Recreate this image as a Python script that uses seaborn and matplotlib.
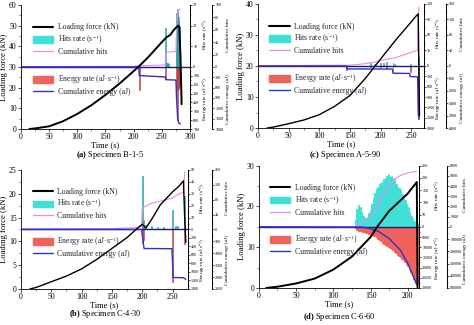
import numpy as np
import matplotlib
matplotlib.use("Agg")
import matplotlib.pyplot as plt
import seaborn as sns
from matplotlib.lines import Line2D
from matplotlib.patches import Patch
from matplotlib.ticker import FixedLocator

sns.set_theme(style="ticks")
plt.rcParams["font.family"] = ["Liberation Serif", "DejaVu Serif"]
plt.rcParams["mathtext.fontset"] = "custom"
plt.rcParams["mathtext.rm"] = "Liberation Serif"
plt.rcParams["mathtext.it"] = "Liberation Serif:italic"
plt.rcParams["mathtext.bf"] = "Liberation Serif:bold"

# ---------------- (a) Specimen B-1-5 ----------------
a_force_t = [15, 25, 50, 75, 100, 125, 150, 175, 200, 210, 225, 250, 258, 265, 270, 275, 279, 281, 283, 285]
a_force_v = [0, 0.3, 1.3, 3.8, 7.3, 11.5, 16.5, 22, 28, 30.5, 34.5, 42, 44.3, 45.5, 47.5, 49, 50, 49, 35, 12]
a_hits_t = [205, 210, 257, 258, 259, 260, 261, 262, 275, 276, 277, 278, 279, 280, 281, 282]
a_hits_v = [0.3, 0.5, 19, 2, 2, 2, 2, 1.5, 20, 26, 28, 25, 24, 22, 20, 15]
a_chits_t = [0, 200, 210, 250, 256, 257, 262, 275, 276, 278, 280, 283]
a_chits_v = [0.5, 1, 2, 3, 3.5, 23, 24, 25, 60, 85, 92, 93]
a_erate_t = [210, 257, 276, 277, 278, 279, 280, 281]
a_erate_v = [255, 140, 250, 600, 270, 250, 230, 200]
a_cen_t = [0, 209, 210, 256, 257, 275, 276, 278, 280, 283]
a_cen_v = [0, 0, 250, 290, 370, 380, 900, 1500, 1630, 1650]

# ---------------- (c) Specimen A-5-90 ----------------
c_force_t = [15, 25, 50, 75, 100, 125, 150, 175, 200, 225, 250, 258, 261, 262, 263]
c_force_v = [0, 0.3, 1.4, 2.6, 4.3, 7.0, 10.5, 16, 22.3, 28.5, 34.3, 36.2, 36.8, 20, 4]
c_hits_t = [145, 183, 190, 200, 205, 210, 220, 222, 248, 261]
c_hits_v = [2, 5, 4, 6, 5, 8, 7, 3, 3, 18]
c_chits_t = [0, 150, 170, 190, 200, 225, 240, 255, 260, 261, 262]
c_chits_v = [0.5, 2, 5, 10, 14, 22, 30, 38, 40, 120, 152]
c_erate_t = [145, 183, 200, 210, 220, 248, 261]
c_erate_v = [130, 30, 40, 50, 200, 180, 1530]
c_cen_t = [0, 144, 145, 219, 220, 247, 248, 260, 261, 262]
c_cen_v = [0, 0, 190, 200, 470, 480, 680, 700, 3000, 3400]

# ---------------- (b) Specimen C-4-30 ----------------
b_force_t = [15, 25, 50, 75, 100, 125, 150, 175, 190, 200, 203, 206, 215, 230, 250, 260, 268, 270, 272]
b_force_v = [0, 0.3, 1.5, 2.7, 4.2, 6.2, 8.5, 10.8, 12.5, 13.6, 13.2, 12.8, 14.5, 17.7, 20.4, 21.5, 22.7, 15, 9.8]
b_hits_t = [200, 202, 205, 215, 225, 235, 250, 255, 258, 269]
b_hits_v = [45, 8, 4, 3, 2, 2, 16, 3, 3, 28]
b_chits_t = [0, 150, 190, 199, 200, 215, 240, 250, 260, 268, 270]
b_chits_v = [1, 2, 5, 8, 58, 70, 80, 85, 95, 100, 155]
b_erate_t = [200, 202, 250, 269]
b_erate_v = [320, 250, 1230, 340]
b_cen_t = [0, 199, 203, 249, 251, 268, 272]
b_cen_v = [0, 0, 800, 810, 2020, 2030, 2100]

# ---------------- (d) Specimen C-6-60 ----------------
d_force_t = [10, 25, 50, 75, 100, 125, 150, 160, 175, 200, 212, 213]
d_force_v = [0, 0.3, 1.1, 2.3, 4.5, 7.7, 12.5, 15.3, 18.9, 23.2, 26, 0]
d_time = [128, 130, 132, 134, 136, 138, 140, 142, 144, 146, 148, 150, 152, 154,
          156, 158, 160, 162, 164, 166, 168, 170, 172, 174, 176, 178, 180, 182,
          184, 186, 188, 190, 192, 194, 196, 198, 200, 202, 204, 206, 208, 210, 212]
d_hits_v = [5, 30, 75, 90, 80, 60, 45, 38, 35, 40, 55, 70, 95, 120,
            140, 155, 165, 175, 180, 185, 195, 200, 210, 215, 205, 210, 200, 190,
            175, 165, 160, 150, 135, 120, 110, 95, 80, 60, 45, 35, 25, 20, 15]
d_erate_v = [300, 800, 1500, 2000, 2200, 2200, 2300, 2500, 2800, 3200, 3600, 4000, 4200, 4300,
             4500, 5000, 6000, 6500, 7000, 7800, 8500, 9000, 9500, 9800, 10200, 10800, 11500, 12200,
             13000, 13800, 14500, 15000, 15800, 16500, 17200, 18000, 19000, 20500, 22000, 23800, 25500,
             27000, 28000]
d_chits_t = [0, 128, 135, 145, 150, 155, 160, 165, 170, 175, 180, 185, 190, 200, 212]
d_chits_v = [0, 0, 250, 600, 900, 1500, 2200, 2900, 3500, 4000, 4400, 4800, 5050, 5300, 5450]
d_cen_t = [0, 140, 150, 160, 175, 190, 200, 210, 212]
d_cen_v = [0, 2000, 16000, 35000, 96000, 190000, 300000, 445000, 475000]

CYAN = "#3fe0d6"
CYAN_EDGE = "#1f8f8a"
RED = "#f0625c"
RED_EDGE = "#a83a36"
PINK = "#ee88ee"
BLUE = "#3030d0"
MID = "#1c1c70"

panels = [
    dict(rect=[0.044, 0.603, 0.357, 0.382], xmax=300, fmax=60, fstep=10,
         force=(a_force_t, a_force_v), hits=(a_hits_t, a_hits_v), chits=(a_chits_t, a_chits_v),
         erate=(a_erate_t, a_erate_v), cen=(a_cen_t, a_cen_v),
         hl=30, hs=10, el=700, es=100, chl=100, chs=20, cel=1800, ces=300,
         outer_px=22, in_lab=15.5, out_lab=38, bw=1.5, edged=True, flw=1.4,
         cap=("(a)", "Specimen B-1-5"), capxy=(0.232, 0.522)),
    dict(rect=[0.544, 0.606, 0.350, 0.382], xmax=270, fmax=40, fstep=10,
         force=(c_force_t, c_force_v), hits=(c_hits_t, c_hits_v), chits=(c_chits_t, c_chits_v),
         erate=(c_erate_t, c_erate_v), cen=(c_cen_t, c_cen_v),
         hl=120, hs=30, el=1800, es=300, chl=160, chs=40, cel=4000, ces=800,
         outer_px=22, in_lab=15.5, out_lab=38, bw=1.5, edged=True, flw=1.0,
         cap=("(c)", "Specimen A-5-90"), capxy=(0.728, 0.522)),
    dict(rect=[0.044, 0.111, 0.352, 0.366], xmax=275, fmax=25, fstep=5,
         force=(b_force_t, b_force_v), hits=(b_hits_t, b_hits_v), chits=(b_chits_t, b_chits_v),
         erate=(b_erate_t, b_erate_v), cen=(b_cen_t, b_cen_v),
         hl=50, hs=10, el=1400, es=200, chl=160, chs=40, cel=2500, ces=500,
         outer_px=24, in_lab=15.5, out_lab=39, bw=1.5, edged=True, flw=1.0,
         cap=("(b)", "Specimen C-4-30"), capxy=(0.222, 0.035)),
    dict(rect=[0.546, 0.114, 0.338, 0.376], xmax=215, fmax=30, fstep=10,
         force=(d_force_t, d_force_v), hits=(d_time, d_hits_v), chits=(d_chits_t, d_chits_v),
         erate=(d_time, d_erate_v), cen=(d_cen_t, d_cen_v),
         hl=250, hs=50, el=30000, es=5000, chl=6000, chs=1000, cel=500000, ces=100000,
         outer_px=28, in_lab=19, out_lab=46, bw=2.0, edged=False, flw=1.4,
         cap=("(d)", "Specimen C-6-60"), capxy=(0.717, 0.024)),
]

fig = plt.figure(figsize=(4.74, 3.25), dpi=100)
fig.patch.set_facecolor("white")

RFS = 3.0   # right axis tick label size
LFS = 5.6   # left axis tick label size


def style_right(axr, pos, lim, step, show_zero, inverted):
    for s in ("left", "top", "bottom"):
        axr.spines[s].set_visible(False)
    axr.spines["right"].set_visible(True)
    axr.spines["right"].set_position(("axes", pos))
    axr.spines["right"].set_linewidth(0.6)
    axr.spines["right"].set_color("black")
    if inverted:
        axr.set_ylim(lim, -lim)
    else:
        axr.set_ylim(-lim, lim)
    start = 0 if show_zero else step
    axr.yaxis.set_major_locator(FixedLocator(np.arange(start, lim + step * 0.5, step)))
    axr.yaxis.set_minor_locator(FixedLocator(np.arange(step / 2, lim, step)))
    axr.tick_params(axis="y", which="major", labelsize=RFS, length=1.5, width=0.5, pad=0.8, colors="black")
    axr.tick_params(axis="y", which="minor", length=0.9, width=0.4)
    axr.grid(False)
    axr.patch.set_visible(False)


for p in panels:
    ax = fig.add_axes(p["rect"])
    ax.set_xlim(0, p["xmax"])
    ax.set_ylim(0, p["fmax"])
    ax_w_px = p["rect"][2] * 474
    outer = 1.0 + p["outer_px"] / ax_w_px

    # right-hand axes: hits (upward) and energy (downward), both with 0 at mid height
    ax_h = ax.twinx()
    ax_e = ax.twinx()
    ax_ch = ax.twinx()
    ax_ce = ax.twinx()
    style_right(ax_h, 1.0, p["hl"], p["hs"], True, False)
    style_right(ax_e, 1.0, p["el"], p["es"], False, True)
    style_right(ax_ch, outer, p["chl"], p["chs"], True, False)
    style_right(ax_ce, outer, p["cel"], p["ces"], False, True)
    for axr in (ax_h, ax_e, ax_ch, ax_ce):
        axr.set_xlim(0, p["xmax"])

    ht, hv = p["hits"]
    et, ev = p["erate"]
    if p["edged"]:
        hkw = dict(edgecolor=CYAN_EDGE, linewidth=0.4)
        ekw = dict(edgecolor=RED_EDGE, linewidth=0.4)
    else:
        hkw = dict(edgecolor=CYAN, linewidth=0.6)
        ekw = dict(edgecolor=RED, linewidth=0.6)
    ax_h.bar(ht, hv, width=p["bw"], color=CYAN, align="center", zorder=2, **hkw)
    ax_e.bar(et, ev, width=p["bw"], color=RED, align="center", zorder=2, **ekw)

    ct, cv = p["chits"]
    sns.lineplot(x=ct, y=cv, ax=ax_ch, color=PINK, lw=0.8, estimator=None, sort=False)
    ct2, cv2 = p["cen"]
    sns.lineplot(x=ct2, y=cv2, ax=ax_ce, color=BLUE, lw=1.0, estimator=None, sort=False)
    ax_ce.axhline(0, color=MID, lw=1.0, zorder=1)

    for axr in (ax_h, ax_e, ax_ch, ax_ce):
        axr.set_xlabel("")
        axr.set_ylabel("")

    # loading force drawn on top of the bars
    ax.set_zorder(ax_ce.get_zorder() + 1)
    ax.patch.set_visible(False)
    ft, fv = p["force"]
    sns.lineplot(x=ft, y=fv, ax=ax, color="black", lw=p["flw"], estimator=None, sort=False)

    ax.spines["top"].set_visible(False)
    ax.spines["right"].set_visible(False)
    for s in ("left", "bottom"):
        ax.spines[s].set_linewidth(0.6)
        ax.spines[s].set_color("black")
    ax.xaxis.set_major_locator(FixedLocator(np.arange(0, p["xmax"] + 1, 50)))
    ax.xaxis.set_minor_locator(FixedLocator(np.arange(25, p["xmax"], 50)))
    ax.yaxis.set_major_locator(FixedLocator(np.arange(0, p["fmax"] + 0.1, p["fstep"])))
    ax.yaxis.set_minor_locator(FixedLocator(np.arange(p["fstep"] / 2, p["fmax"], p["fstep"])))
    ax.tick_params(axis="both", which="major", labelsize=LFS, length=2, width=0.5, pad=1, colors="black")
    ax.tick_params(axis="both", which="minor", length=1.1, width=0.4)
    ax.set_xlabel("Time (s)", fontsize=6.0, labelpad=0.0, color="black")
    ax.set_ylabel("Loading force (kN)", fontsize=6.2, labelpad=1.0, color="black")
    ax.grid(False)

    # right-hand axis titles
    r_in = 1.0 + p["in_lab"] / ax_w_px
    r_out = 1.0 + p["out_lab"] / ax_w_px
    kw = dict(transform=ax.transAxes, rotation=90, ha="center", va="center", fontsize=3.9, color="black")
    ax.text(r_in, 0.76, r"Hits rate (s$\mathregular{^{-1}}$)", **kw)
    ax.text(r_in, 0.24, r"Energy rate (aJ$\cdot$s$\mathregular{^{-1}}$)", **kw)
    ax.text(r_out, 0.76, "Cumulative hits", **kw)
    ax.text(r_out, 0.24, "Cumulative energy (aJ)", **kw)

    # legends: upper group above the mid line, lower group below it
    up_handles = [Line2D([], [], color="black", lw=1.5),
                  Patch(facecolor=CYAN, edgecolor=CYAN),
                  Line2D([], [], color=PINK, lw=0.9)]
    up_labels = ["Loading force (kN)", r"Hits rate (s$\mathregular{^{-1}}$)", "Cumulative hits"]
    lo_handles = [Patch(facecolor=RED, edgecolor=RED),
                  Line2D([], [], color=BLUE, lw=1.0)]
    lo_labels = [r"Energy rate (aJ$\cdot$s$\mathregular{^{-1}}$)", "Cumulative energy (aJ)"]
    lkw = dict(frameon=False, fontsize=5.6, handlelength=2.6, handleheight=0.9,
               labelspacing=0.25, handletextpad=0.6, borderaxespad=0, borderpad=0)
    leg1 = ax.legend(up_handles, up_labels, loc="upper left", bbox_to_anchor=(0.07, 0.85), **lkw)
    ax.add_artist(leg1)
    ax.legend(lo_handles, lo_labels, loc="upper left", bbox_to_anchor=(0.07, 0.45), **lkw)

    bold, rest = p["cap"]
    fig.text(p["capxy"][0], p["capxy"][1], r"$\mathbf{" + bold + r"}$ " + rest,
             ha="center", va="center", fontsize=6.0, color="black")

fig.savefig("out.png", dpi=100, facecolor="white")
